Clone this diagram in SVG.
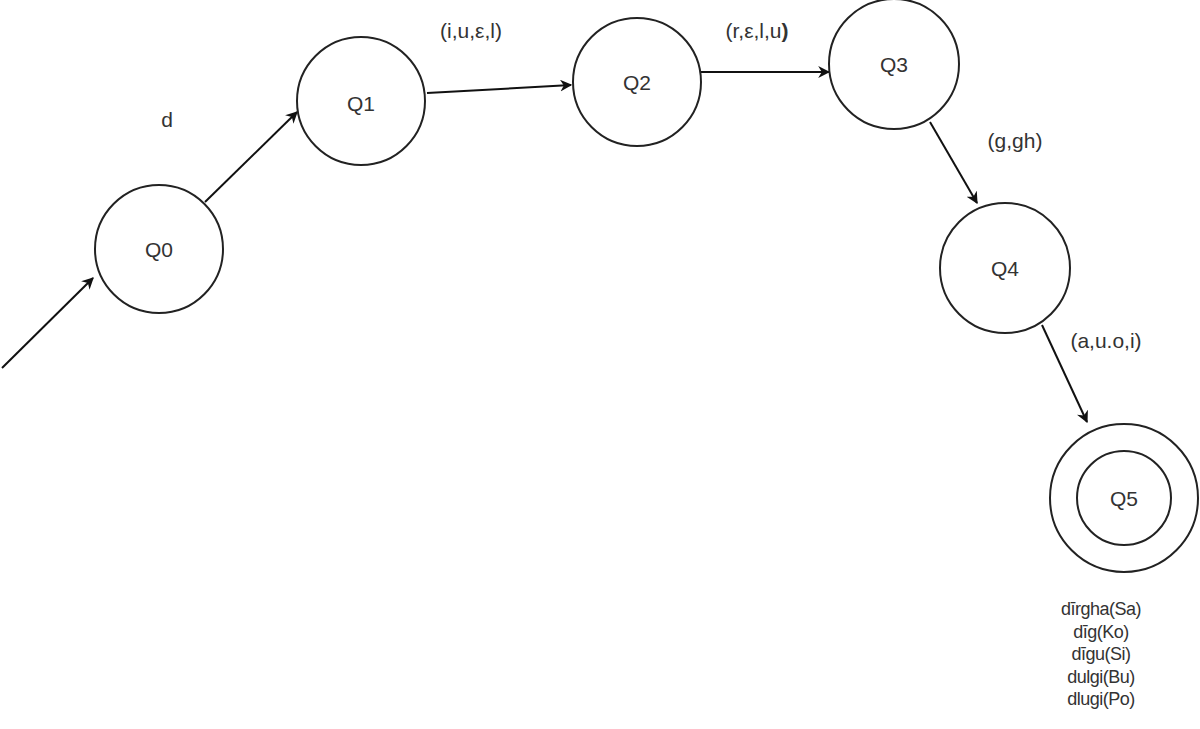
<svg xmlns="http://www.w3.org/2000/svg" width="1200" height="729" viewBox="0 0 1200 729">
<style>
.st{fill:#fff;stroke:#222;stroke-width:2}
.lb{font-family:"Liberation Sans",Arial,sans-serif;font-size:21px;fill:#333;text-anchor:middle;dominant-baseline:central}
.ft{font-size:18px;letter-spacing:-0.5px}
.ed{fill:none;stroke:#111;stroke-width:2;marker-end:url(#ah)}
</style>
<defs>
<marker id="ah" viewBox="0 0 10 10" refX="9" refY="5" markerWidth="6" markerHeight="6" markerUnits="strokeWidth" orient="auto">
<path d="M0,0 L10,5 L0,10 L3,5 Z" fill="#111"/>
</marker>
</defs>
<rect width="1200" height="729" fill="#fff"/>
<g id="connectors">
<line class="ed" x1="2" y1="368" x2="93" y2="278"/>
<line class="ed" x1="205" y1="202" x2="297" y2="112"/>
<line class="ed" x1="427" y1="93" x2="571" y2="85"/>
<line class="ed" x1="701" y1="72" x2="829" y2="72"/>
<line class="ed" x1="930" y1="122" x2="977" y2="203"/>
<line class="ed" x1="1042" y1="325" x2="1087" y2="422"/>
</g>
<g id="Q0"><circle class="st" cx="159" cy="249" r="64"/><text class="lb" x="159" y="249">Q0</text></g>
<g id="Q1"><circle class="st" cx="361" cy="101" r="64"/><text class="lb" x="361" y="103">Q1</text></g>
<g id="Q2"><circle class="st" cx="637" cy="82" r="64"/><text class="lb" x="637" y="82">Q2</text></g>
<g id="Q3"><circle class="st" cx="894" cy="64" r="65"/><text class="lb" x="894" y="64">Q3</text></g>
<g id="Q4"><circle class="st" cx="1005" cy="268" r="65"/><text class="lb" x="1005" y="268">Q4</text></g>
<g id="Q5"><circle class="st" cx="1124" cy="498" r="74"/><circle class="st" cx="1124" cy="498" r="47"/><text class="lb" x="1124" y="498">Q5</text></g>
<g id="labels">
<text class="lb" x="167" y="119">d</text>
<text class="lb" x="471" y="30">(i,u,ε,l)</text>
<text class="lb" x="757" y="30">(r,ε,l,u<tspan font-weight="bold">)</tspan></text>
<text class="lb" x="1015" y="140">(g,gh)</text>
<text class="lb" x="1106" y="340">(a,u.o,i)</text>
<text class="lb ft" x="1101" y="609">dīrgha(Sa)</text>
<text class="lb ft" x="1101" y="632">dīg(Ko)</text>
<text class="lb ft" x="1101" y="654">dīgu(Si)</text>
<text class="lb ft" x="1101" y="677">dulgi(Bu)</text>
<text class="lb ft" x="1101" y="699">dlugi(Po)</text>
</g>
</svg>
